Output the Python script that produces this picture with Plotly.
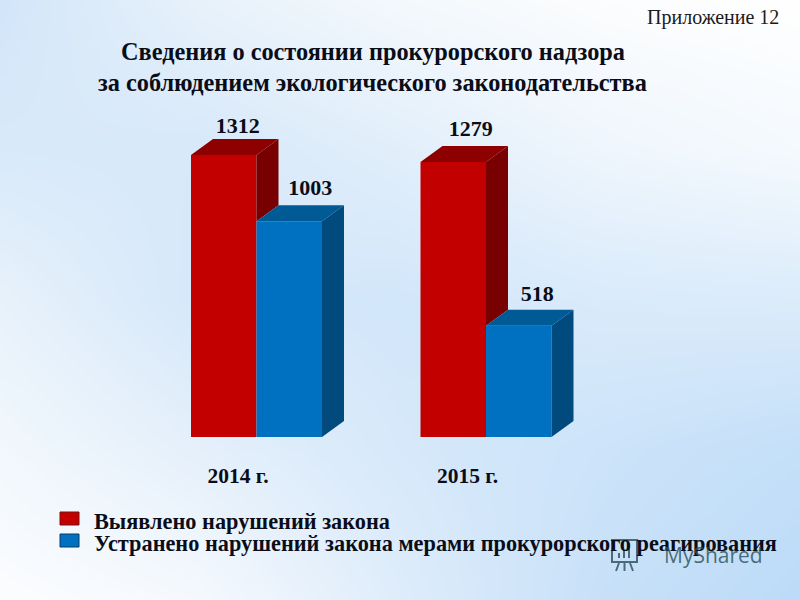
import base64, struct, zlib
import numpy as np
import plotly.graph_objects as go

years = ["2014 г.", "2015 г."]
detected = [1312, 1279]
remedied = [1003, 518]
name_detected = "Выявлено нарушений закона"
name_remedied = "Устранено нарушений закона мерами прокурорского реагирования"
title_lines = ["Сведения о состоянии прокурорского надзора",
               "за соблюдением экологического законодательства"]
appendix = "Приложение 12"

RED = ["#c20000", "#8e0000", "#780000"]
BLUE = ["#0070c0", "#005a96", "#004a7e"]
FONT = "Liberation Serif"
INK = "#0a0d18"

# frame geometry
W, H = 800, 600
L, R, T, B = 170, 600, 100, 437
UNIT = 229.5           # px per group
SCALE = 0.215          # px per value
x_range = [(L - 256.5) / UNIT, (R - 256.5) / UNIT]
y_range = [0, (B - T) / SCALE]
BW = 65.5 / UNIT
DX = 22 / UNIT
DY = 16 / SCALE

def px(x): return (x - L) / (R - L)
def py(y): return (B - y) / (B - T)

# background wash
grid = [["#d3e6f9", "#e8f2fb", "#f4f9fd", "#fcfdfe", "#ffffff"],
        ["#d9eafa", "#d8e9fa", "#e2effb", "#eff6fd", "#f5fafe"],
        ["#e8f2fb", "#d6e8fa", "#d3e7fb", "#daebfb", "#dcecfb"],
        ["#f2f8fd", "#e5f0fb", "#d7e9fb", "#cde4fa", "#c5e0f9"],
        ["#fcfdff", "#f5f9fe", "#dfedfb", "#c8e1f9", "#bddbf8"]]

def wash_png():
    g = np.array([[[int(c[i:i + 2], 16) for i in (1, 3, 5)] for c in row] for row in grid], float)
    w, h = 400, 300
    u = np.linspace(0, g.shape[1] - 1, w)
    v = np.linspace(0, g.shape[0] - 1, h)
    iu = np.minimum(u.astype(int), g.shape[1] - 2)
    iv = np.minimum(v.astype(int), g.shape[0] - 2)
    fu = (u - iu)[None, :, None]
    fv = (v - iv)[:, None, None]
    a = g[iv][:, iu]; b = g[iv][:, iu + 1]; c = g[iv + 1][:, iu]; d = g[iv + 1][:, iu + 1]
    img = ((a * (1 - fu) + b * fu) * (1 - fv) + (c * (1 - fu) + d * fu) * fv).astype(np.uint8)
    raw = b"".join(b"\x00" + img[r].tobytes() for r in range(h))
    def chunk(t, d):
        return struct.pack(">I", len(d)) + t + d + struct.pack(">I", zlib.crc32(t + d) & 0xffffffff)
    png = b"\x89PNG\r\n\x1a\n" + chunk(b"IHDR", struct.pack(">IIBBBBB", w, h, 8, 2, 0, 0, 0)) \
        + chunk(b"IDAT", zlib.compress(raw, 9)) + chunk(b"IEND", b"")
    return "data:image/png;base64," + base64.b64encode(png).decode()

groups = np.arange(len(years))
x_det = groups - BW / 2
x_rem = groups + BW / 2

fig = go.Figure()
fig.add_bar(x=x_det, y=detected, width=BW, marker=dict(color=RED[0], line_width=0),
            name=name_detected, showlegend=False, hoverinfo="skip")
fig.add_bar(x=x_rem, y=remedied, width=BW, marker=dict(color=BLUE[0], line_width=0),
            name=name_remedied, showlegend=False, hoverinfo="skip")

def face(xs, ys, color):
    fig.add_trace(go.Scatter(x=xs, y=ys, mode="lines", fill="toself", fillcolor=color,
                             line=dict(width=0, color=color), showlegend=False,
                             hoverinfo="skip", cliponaxis=False))

for xc, v, nxt in zip(x_det, detected, remedied):
    x0, x1 = xc - BW / 2, xc + BW / 2
    face([x1, x1 + DX, x1 + DX, x1], [nxt, nxt + DY, v + DY, v], RED[2])
    face([x0, x0 + DX, x1 + DX, x1], [v, v + DY, v + DY, v], RED[1])
for xc, v in zip(x_rem, remedied):
    x0, x1 = xc - BW / 2, xc + BW / 2
    face([x1, x1 + DX, x1 + DX, x1], [0, DY, v + DY, v], BLUE[2])
    face([x0, x0 + DX, x1 + DX, x1], [v, v + DY, v + DY, v], BLUE[1])

# value labels (horizontal and vertical nudges in px)
shift_x = [14, 17.5, 21, 18.5]
shift_y = [0, 5, 5, 3]
values = detected + remedied
bar_x = list(x_det) + list(x_rem)
fig.add_trace(go.Scatter(
    x=[b + s / UNIT for b, s in zip(bar_x, shift_x)],
    y=[v + DY + s / SCALE for v, s in zip(values, shift_y)],
    text=[str(v) for v in values], mode="text", textposition="top center",
    textfont=dict(family=FONT, size=22, color=INK, weight="bold"),
    showlegend=False, hoverinfo="skip", cliponaxis=False))

ann = []
def text(x, y, s, size, bold=True, anchor="center", color=INK, family=FONT):
    ann.append(dict(x=px(x), y=py(y), xref="paper", yref="paper", text=s, showarrow=False,
                    xanchor=anchor, yanchor="middle",
                    font=dict(family=family, size=size, color=color, weight="bold" if bold else "normal")))

text(372.5, 52, title_lines[0], 24.3)
text(372.5, 83, title_lines[1], 24.3)
text(781, 17, appendix, 20, bold=False, anchor="right", color="#1a1a1a")
text(92, 521, name_detected, 22.3, anchor="left")
text(92, 543, name_remedied, 22.3, anchor="left")
WM = "rgba(45,80,90,0.82)"
text(662, 555, "MyShared", 21, bold=False, anchor="left", color=WM, family="Open Sans")

shapes = []
def rect(x0, y0, x1, y1, fill, line=None, lw=1):
    shapes.append(dict(type="rect", xref="paper", yref="paper", x0=px(x0), x1=px(x1), y0=py(y0), y1=py(y1),
                       fillcolor=fill, line=dict(color=line or fill, width=lw)))
def seg(x0, y0, x1, y1):
    shapes.append(dict(type="line", xref="paper", yref="paper", x0=px(x0), x1=px(x1), y0=py(y0), y1=py(y1),
                       line=dict(color=WM, width=2)))
rect(60, 512, 79, 525, RED[0], "#7a1010")
rect(60, 534, 79, 547, BLUE[0], "#0a3a66")
# watermark icon
shapes.append(dict(type="rect", xref="paper", yref="paper", x0=px(612), x1=px(637), y0=py(540), y1=py(562),
                   line=dict(color=WM, width=2), fillcolor="rgba(0,0,0,0)"))
rect(618, 553, 620, 558, WM, lw=0)
rect(623, 550, 625, 558, WM, lw=0)
rect(628, 546, 630, 558, WM, lw=0)
seg(619, 563, 616, 571)
seg(624.5, 563, 624.5, 571)
seg(630, 563, 633, 571)

fig.update_layout(
    width=W, height=H, margin=dict(l=L, r=W - R, t=T, b=H - B),
    barmode="overlay", paper_bgcolor="white", plot_bgcolor="rgba(0,0,0,0)", showlegend=False,
    xaxis=dict(range=x_range, tickmode="array", tickvals=list(groups - 18.5 / UNIT), ticktext=years,
               showgrid=False, zeroline=False, showline=False, ticks="", ticklabelstandoff=23,
               tickfont=dict(family=FONT, size=21.5, color=INK, weight="bold")),
    yaxis=dict(range=y_range, visible=False, showgrid=False, zeroline=False),
    annotations=ann, shapes=shapes,
    images=[dict(source=wash_png(), xref="paper", yref="paper", x=px(0), y=py(0),
                 sizex=W / (R - L), sizey=H / (B - T), sizing="stretch",
                 xanchor="left", yanchor="top", layer="below")],
)
fig.write_html("out.html", config={"displayModeBar": False},
               post_script="document.body.style.margin='0';document.documentElement.style.overflow='hidden';")
